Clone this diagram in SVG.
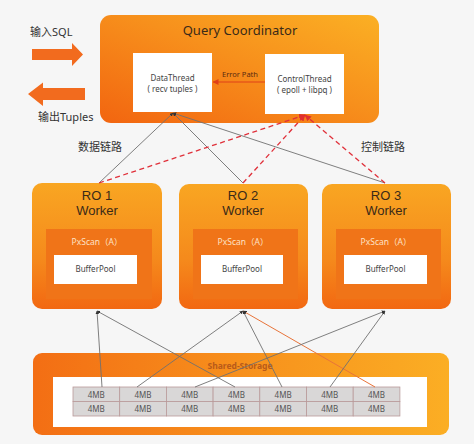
<svg xmlns="http://www.w3.org/2000/svg" width="474" height="444" viewBox="0 0 474 444">
<defs>
<linearGradient id="gQC" x1="0" y1="1" x2="1" y2="0">
<stop offset="0" stop-color="#F26510"/>
<stop offset="0.55" stop-color="#F7901C"/>
<stop offset="1" stop-color="#FBB024"/>
</linearGradient>
<linearGradient id="gW" x1="0" y1="0" x2="0" y2="1">
<stop offset="0" stop-color="#F9A622"/>
<stop offset="0.6" stop-color="#F58A1C"/>
<stop offset="1" stop-color="#F26812"/>
</linearGradient>
<linearGradient id="gS" x1="0" y1="0" x2="1" y2="0">
<stop offset="0" stop-color="#F36E14"/>
<stop offset="0.5" stop-color="#F7901C"/>
<stop offset="1" stop-color="#FBAE24"/>
</linearGradient>
<marker id="ag" viewBox="0 0 6 6" refX="5.5" refY="3" markerWidth="4" markerHeight="4" orient="auto">
<path d="M0,0 L6,3 L0,6 z" fill="#333"/>
</marker>
<marker id="ar" viewBox="0 0 6 6" refX="5.5" refY="3" markerWidth="5" markerHeight="5" orient="auto">
<path d="M0,0 L6,3 L0,6 z" fill="#E03030"/>
</marker>
<marker id="ae" viewBox="0 0 6 6" refX="5.5" refY="3" markerWidth="5" markerHeight="5" orient="auto">
<path d="M0,0 L6,3 L0,6 z" fill="#E04018"/>
</marker>
</defs>
<style>
text{font-family:"Noto Sans","Noto Sans CJK SC",sans-serif;}
.t{fill:#3A2A18;font-size:13px;text-anchor:middle;font-family:"Liberation Sans","Noto Sans CJK SC",sans-serif;}
.s{fill:#444;font-size:8px;text-anchor:middle;}
.lab{fill:#333;font-size:11px;}
.px{fill:#FDE2C6;font-size:8.5px;text-anchor:middle;}
.cell{fill:#D9D7D7;stroke:#B99A9A;stroke-width:0.8;}
.mb{fill:#555;font-size:8px;text-anchor:middle;}
.wh{fill:#FFFFFF;}
.g{stroke:#707070;stroke-width:0.9;fill:none;}
.r{stroke:#E0303A;stroke-width:1.3;stroke-dasharray:5,3.5;fill:none;}
</style>
<rect width="474" height="444" fill="#F6F6F6"/>

<g id="input-arrows">
<text class="lab" x="30" y="36">输入SQL</text>
<path d="M32,49 L72,49 L72,43 L83,54.5 L72,66 L72,60 L32,60 z" fill="#F26B1E"/>
<path d="M85,88 L43,88 L43,82.5 L28,94 L43,106 L43,100 L85,100 z" fill="#F26B1E"/>
<text class="lab" x="38" y="121">输出Tuples</text>
<text class="lab" x="78" y="151">数据链路</text>
<text class="lab" x="361" y="151">控制链路</text>
</g>

<g id="query-coordinator">
<rect x="100" y="15" width="279" height="108" rx="11" fill="url(#gQC)"/>
<text x="240" y="35" font-size="13" fill="#3A2A18" text-anchor="middle">Query Coordinator</text>
</g>
<g id="datathread">
<rect class="wh" x="133" y="53" width="79" height="59"/>
<text class="s" x="172.5" y="81">DataThread</text>
<text class="s" x="172.5" y="92">( recv tuples )</text>
</g>
<g id="controlthread">
<rect class="wh" x="265" y="54" width="79" height="60"/>
<text class="s" x="304.5" y="82">ControlThread</text>
<text class="s" x="304.5" y="93">( epoll + libpq )</text>
</g>

<g id="ro1">
<rect x="32" y="183" width="130" height="126" rx="10" fill="url(#gW)"/>
<text class="t" x="97" y="200">RO 1</text>
<text class="t" x="97" y="215">Worker</text>
<rect x="46" y="229" width="106" height="70" fill="#F07418"/>
<text class="px" x="97" y="245">PxScan（A）</text>
<rect class="wh" x="54" y="255" width="83" height="29"/>
<text class="s" x="95.5" y="272">BufferPool</text>
</g>
<g id="ro2">
<rect x="179" y="184" width="129" height="125" rx="10" fill="url(#gW)"/>
<text class="t" x="243" y="200">RO 2</text>
<text class="t" x="243" y="215">Worker</text>
<rect x="193" y="229" width="105" height="70" fill="#F07418"/>
<text class="px" x="243" y="245">PxScan（A）</text>
<rect class="wh" x="201" y="255" width="82" height="29"/>
<text class="s" x="242" y="272">BufferPool</text>
</g>
<g id="ro3">
<rect x="322" y="184" width="129" height="125" rx="10" fill="url(#gW)"/>
<text class="t" x="386" y="200">RO 3</text>
<text class="t" x="386" y="215">Worker</text>
<rect x="336" y="229" width="105" height="70" fill="#F07418"/>
<text class="px" x="386" y="245">PxScan（A）</text>
<rect class="wh" x="344" y="255" width="83" height="29"/>
<text class="s" x="385.5" y="272">BufferPool</text>
</g>

<g id="shared-storage">
<rect x="33" y="353" width="416" height="82" rx="9" fill="url(#gS)"/>
<text x="240" y="369" font-size="8.5" font-weight="bold" fill="#B85A1A" text-anchor="middle">Shared-Storage</text>
<rect class="wh" x="53" y="377" width="374" height="50"/>
<g>
<rect class="cell" x="73" y="387" width="46.7" height="14.5"/>
<rect class="cell" x="119.7" y="387" width="46.7" height="14.5"/>
<rect class="cell" x="166.4" y="387" width="46.7" height="14.5"/>
<rect class="cell" x="213.1" y="387" width="46.7" height="14.5"/>
<rect class="cell" x="259.8" y="387" width="46.7" height="14.5"/>
<rect class="cell" x="306.5" y="387" width="46.7" height="14.5"/>
<rect class="cell" x="353.2" y="387" width="46.7" height="14.5"/>
<rect class="cell" x="73" y="401.5" width="46.7" height="14.5"/>
<rect class="cell" x="119.7" y="401.5" width="46.7" height="14.5"/>
<rect class="cell" x="166.4" y="401.5" width="46.7" height="14.5"/>
<rect class="cell" x="213.1" y="401.5" width="46.7" height="14.5"/>
<rect class="cell" x="259.8" y="401.5" width="46.7" height="14.5"/>
<rect class="cell" x="306.5" y="401.5" width="46.7" height="14.5"/>
<rect class="cell" x="353.2" y="401.5" width="46.7" height="14.5"/>
</g>
<g>
<text class="mb" x="96.3" y="397.5">4MB</text>
<text class="mb" x="143" y="397.5">4MB</text>
<text class="mb" x="189.7" y="397.5">4MB</text>
<text class="mb" x="236.4" y="397.5">4MB</text>
<text class="mb" x="283.1" y="397.5">4MB</text>
<text class="mb" x="329.8" y="397.5">4MB</text>
<text class="mb" x="376.5" y="397.5">4MB</text>
<text class="mb" x="96.3" y="412">4MB</text>
<text class="mb" x="143" y="412">4MB</text>
<text class="mb" x="189.7" y="412">4MB</text>
<text class="mb" x="236.4" y="412">4MB</text>
<text class="mb" x="283.1" y="412">4MB</text>
<text class="mb" x="329.8" y="412">4MB</text>
<text class="mb" x="376.5" y="412">4MB</text>
</g>
</g>

<g id="connectors">
<line x1="265" y1="82" x2="213" y2="82" stroke="#E04018" stroke-width="1.2" marker-end="url(#ae)"/>
<text x="240" y="77" font-size="7.5" fill="#5A2A10" text-anchor="middle">Error Path</text>
<line class="g" x1="99" y1="183" x2="173" y2="113" marker-end="url(#ag)"/>
<line class="g" x1="243" y1="183" x2="173" y2="113" marker-end="url(#ag)"/>
<line class="g" x1="385" y1="183" x2="173" y2="113" marker-end="url(#ag)"/>
<line class="r" x1="99" y1="183" x2="305" y2="115" marker-end="url(#ar)"/>
<line class="r" x1="243" y1="183" x2="305" y2="115" marker-end="url(#ar)"/>
<line class="r" x1="385" y1="183" x2="305" y2="115" marker-end="url(#ar)"/>
<line class="g" x1="102" y1="387" x2="97" y2="311" marker-end="url(#ag)"/>
<line class="g" x1="235" y1="387" x2="97" y2="311" marker-end="url(#ag)"/>
<line class="g" x1="137" y1="387" x2="243" y2="311" marker-end="url(#ag)"/>
<line class="g" x1="282" y1="387" x2="243" y2="311" marker-end="url(#ag)"/>
<line x1="375" y1="387" x2="243" y2="311" stroke="#E8743A" stroke-width="1" marker-end="url(#ag)"/>
<line class="g" x1="195" y1="387" x2="385" y2="311" marker-end="url(#ag)"/>
<line class="g" x1="330" y1="387" x2="385" y2="311" marker-end="url(#ag)"/>
</g>
</svg>
